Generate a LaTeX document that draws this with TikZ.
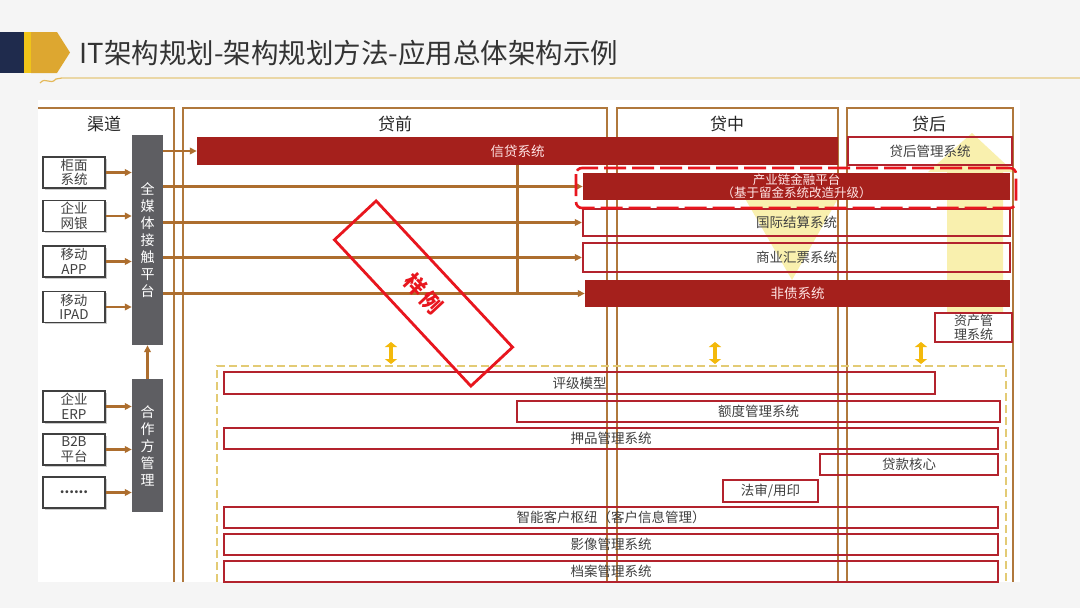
\documentclass[tikz,border=0pt]{standalone}
\usepackage{fontspec}
\setmainfont{Noto Sans CJK SC}
\usetikzlibrary{
  calc,shadows,
  arrows.meta
}
\definecolor{navy}{HTML}{1F2B4D}
\definecolor{brightyel}{HTML}{F0C419}
\definecolor{headgold}{HTML}{DDA730}
\definecolor{ruleline}{HTML}{EAD7A6}
\definecolor{colbrown}{HTML}{B0783C}
\definecolor{arrbrown}{HTML}{AD6E2E}
\definecolor{barred}{HTML}{A5201C}
\definecolor{boxred}{HTML}{B3232D}
\definecolor{stampred}{HTML}{E8161E}
\definecolor{gold}{HTML}{F3B90B}
\definecolor{dashgold}{HTML}{E3CB75}
\definecolor{platgrey}{HTML}{5E5E62}
\definecolor{fadeyel}{HTML}{F7EA8C}

\begin{document}
\begin{tikzpicture}[x=1pt,y=-1pt,
  colline/.style={draw=colbrown,line width=2.1pt},
  conn/.style={draw=arrbrown,line width=2.1pt,-{Triangle[length=7pt,width=6.5pt]}},
  chbox/.style={draw=black!75,fill=white,line width=1.5pt,inner sep=0pt,
    minimum width=62pt,minimum height=31pt,align=center,text=black!75,
    font=\fontsize{13.5}{14.5}\selectfont,
    drop shadow={shadow xshift=1.5pt,shadow yshift=-1.5pt,fill=black!40}},
  platbox/.style={fill=platgrey,inner sep=0pt,minimum width=31pt,align=center,
    text=white,font=\fontsize{14}{17}\selectfont},
  redbar/.style={fill=barred,inner sep=0pt,align=center,text=white!90!red,
    font=\fontsize{13.5}{14}\selectfont},
  sysbox/.style={draw=boxred,line width=2.2pt,inner sep=0pt,align=center,
    text=black!75,font=\fontsize{13.5}{14}\selectfont},
  colhead/.style={font=\fontsize{17}{18}\selectfont,text=black!85},
  dbl/.style={draw=gold,line width=4pt,
    {Triangle[length=5pt,width=12pt]}-{Triangle[length=5pt,width=12pt]}}
]
\useasboundingbox (0,0) rectangle (1080,608);
\fill[black!4] (0,0) rectangle (1080,608);
\fill[white] (38,100) rectangle (1020,582);

% title bar
\fill[navy] (0,32) rectangle (24,73);
\fill[brightyel] (24,32) rectangle (31,73);
\fill[headgold] (31,32) -- (57,32) -- (70,52.5) -- (57,73) -- (31,73) -- cycle;
\draw[headgold!80,line width=1.2pt] (40,83) .. controls (46,76) and (50,86) .. (56,79) -- (62,78);
\draw[ruleline,line width=2pt] (62,78) -- (1080,78);
\node[anchor=west,font=\fontsize{27.5}{30}\selectfont,text=black!80] (title) at (76,53)
  {IT架构规划-架构规划方法-应用总体架构示例};

% faded yellow arrows
\fill[fadeyel,opacity=0.7] (947,312) -- (947,172) -- (928,172) -- (972,133)
  -- (1014,172) -- (1003,172) -- (1003,312) -- cycle;
\fill[fadeyel,opacity=0.7] (743,195) -- (840,195) -- (792,280) -- cycle;

% columns
\draw[colline] (38,108) -- (174,108) -- (174,582);
\draw[colline] (183,582) -- (183,108) -- (607,108) -- (607,582);
\draw[colline] (617,582) -- (617,108) -- (838,108) -- (838,582);
\draw[colline] (847,582) -- (847,108) -- (1013,108) -- (1013,582);
\node[colhead] (hqd) at (104,124) {渠道};
\node[colhead] (hdq) at (395,124) {贷前};
\node[colhead] (hdz) at (727,124) {贷中};
\node[colhead] (hdh) at (929,124) {贷后};

\draw[dashgold,line width=1.5pt,dash pattern=on 8pt off 4pt]
  (217,582) -- (217,366) -- (1006,366) -- (1006,582);

% channels
\node[chbox] (gm) at (74,172.5) {柜面\\系统};
\node[chbox] (wy) at (74,216) {企业\\网银};
\node[chbox] (app) at (74,261.5) {移动\\APP};
\node[chbox] (ipad) at (74,307) {移动\\IPAD};
\node[chbox] (erp) at (74,406.5) {企业\\ERP};
\node[chbox] (b2b) at (74,449.5) {B2B\\平台};
\node[chbox] (more) at (74,492.5) {\textbf{......}};

\node[platbox,minimum height=210pt] (qmt) at (147.5,240) {全\\媒\\体\\接\\触\\平\\台};
\node[platbox,minimum height=133pt] (hzf) at (147.5,445.5) {合\\作\\方\\管\\理};

\foreach \c in {gm,wy,app,ipad}
  \draw[conn] (\c.east) -- (\c.east -| qmt.west);
\foreach \c in {erp,b2b,more}
  \draw[conn] (\c.east) -- (\c.east -| hzf.west);
\draw[conn] (hzf.north) -- (qmt.south);

% systems
\node[redbar,minimum width=641pt,minimum height=28pt] (xd) at (517.5,151) {信贷系统};
\node[sysbox,minimum width=164pt,minimum height=28pt] (dh) at (930,151) {贷后管理系统};
\node[redbar,minimum width=427pt,minimum height=27pt,font=\fontsize{12.5}{13}\selectfont] (cyl)
  at (796.5,186.5) {产业链金融平台\\（基于留金系统改造升级）};
\node[sysbox,minimum width=427pt,minimum height=27pt] (gj) at (796.5,222.5) {国际结算系统};
\node[sysbox,minimum width=427pt,minimum height=29pt] (sh) at (796.5,257.5) {商业汇票系统};
\node[redbar,minimum width=425pt,minimum height=27pt] (fz) at (797.5,293.5) {非债系统};
\node[sysbox,minimum width=77pt,minimum height=29pt,font=\fontsize{13}{13.5}\selectfont] (zc)
  at (973.5,327.5) {资产管\\理系统};

\draw[conn] (qmt.east |- xd.west) -- (xd.west);
\foreach \s in {cyl,gj,sh,fz}
  \draw[conn] (qmt.east |- \s.west) -- (\s.west);
\draw[arrbrown,line width=2.1pt] (xd.south) -- (xd.south |- fz.west);

\draw[stampred,line width=2.6pt,dash pattern=on 22pt off 6pt,rounded corners=6pt]
  (576,168) rectangle (1016,208);

% shared layer
\coordinate (u1) at (391,342); \coordinate (l1) at (391,364);
\coordinate (u2) at (715,342); \coordinate (l2) at (715,364);
\coordinate (u3) at (921,342); \coordinate (l3) at (921,364);
\draw[dbl] (u1) -- (l1);
\draw[dbl] (u2) -- (l2);
\draw[dbl] (u3) -- (l3);

\node[sysbox,minimum width=711pt,minimum height=22pt] (pj) at (579.5,383) {评级模型};
\node[sysbox,minimum width=483pt,minimum height=21pt] (ed) at (758.5,411.5) {额度管理系统};
\node[sysbox,minimum width=774pt,minimum height=21pt] (yp) at (611,438.5) {押品管理系统};
\node[sysbox,minimum width=178pt,minimum height=21pt] (dk) at (909,464.5) {贷款核心};
\node[sysbox,minimum width=95pt,minimum height=22pt] (fs) at (770.5,491) {法审/用印};
\node[sysbox,minimum width=774pt,minimum height=21pt] (zn) at (611,517.5) {智能客户枢纽（客户信息管理）};
\node[sysbox,minimum width=774pt,minimum height=21pt] (yx) at (611,544.5) {影像管理系统};
\node[sysbox,minimum width=774pt,minimum height=21pt] (da) at (611,571.5) {档案管理系统};

% stamp
\node[draw=stampred,line width=2.8pt,minimum width=200pt,minimum height=57pt,rotate=-47,
  text=stampred,font=\fontsize{21}{22}\selectfont\bfseries] (stamp) at (423.5,293.5) {样\kern3pt 例};
\end{tikzpicture}
\end{document}
